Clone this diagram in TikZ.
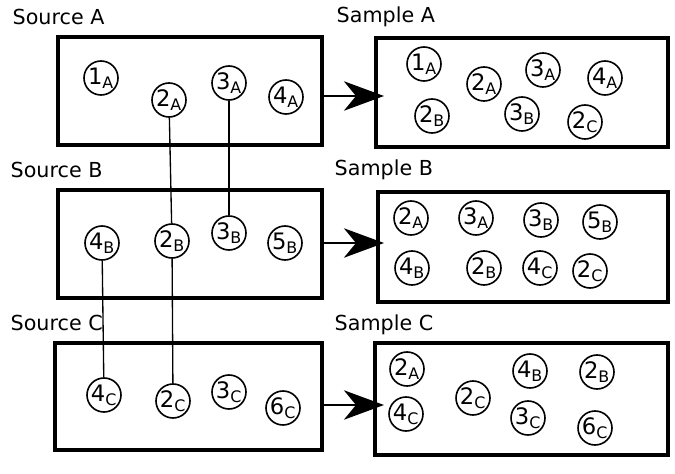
\documentclass[tikz,border=0pt]{standalone}
\usepackage{fontspec}
\setmainfont{DejaVu Sans}
\usetikzlibrary{arrows.meta}
\newcommand{\lbl}[2]{#1\textsubscript{#2}}
\begin{document}
\begin{tikzpicture}[x=0.75pt,y=-0.75pt,
  box/.style={draw,line width=3pt},
  it/.style={draw,circle,line width=1.2pt,minimum size=25.5pt,inner sep=0pt,font=\fontsize{17}{17}\selectfont},
  ttl/.style={anchor=west,font=\fontsize{15.5}{16}\selectfont},
  arr/.style={line width=2.2pt,-{Stealth[length=30pt,width=22pt,inset=9pt]}},
  lk/.style={line width=1pt}]
\useasboundingbox (0,0) rectangle (675,474);
\draw[box] (58,37) rectangle (322,145);
\draw[box] (58,190) rectangle (322,298);
\draw[box] (55,343) rectangle (322,450);
\draw[box] (376,38) rectangle (668,147);
\draw[box] (378,192) rectangle (668,302);
\draw[box] (375,343) rectangle (668,455);
\node[ttl] (tA) at (8,17) {Source A};
\node[ttl] (sA) at (332,17) {Sample A};
\node[ttl] (tB) at (6,170) {Source B};
\node[ttl] (sB) at (330,170) {Sample B};
\node[ttl] (tC) at (6,323) {Source C};
\node[ttl] (sC) at (330,325) {Sample C};
% sources
\node[it] (a1) at (101,78) {\lbl{1}{A}};
\node[it] (a2) at (169,100) {\lbl{2}{A}};
\node[it] (a3) at (229,83) {\lbl{3}{A}};
\node[it] (a4) at (286,97) {\lbl{4}{A}};
\node[it] (b4) at (102,243) {\lbl{4}{B}};
\node[it] (b2) at (172,241) {\lbl{2}{B}};
\node[it] (b3) at (229,233) {\lbl{3}{B}};
\node[it] (b5) at (285,243) {\lbl{5}{B}};
\node[it] (c4) at (104,395) {\lbl{4}{C}};
\node[it] (c2) at (173,401) {\lbl{2}{C}};
\node[it] (c3) at (229,392) {\lbl{3}{C}};
\node[it] (c6) at (283,408) {\lbl{6}{C}};
\draw[lk] (a2) -- (b2);
\draw[lk] (a3) -- (b3);
\draw[lk] (b4) -- (c4);
\draw[lk] (b2) -- (c2);
% samples
\node[it] (p1) at (424,64) {\lbl{1}{A}};
\node[it] (p2) at (484,84) {\lbl{2}{A}};
\node[it] (p3) at (543,70) {\lbl{3}{A}};
\node[it] (p4) at (605,78) {\lbl{4}{A}};
\node[it] (p5) at (432,116) {\lbl{2}{B}};
\node[it] (p6) at (522,114) {\lbl{3}{B}};
\node[it] (p7) at (585,122) {\lbl{2}{C}};
\node[it] (q1) at (411,218) {\lbl{2}{A}};
\node[it] (q2) at (476,218) {\lbl{3}{A}};
\node[it] (q3) at (541,220) {\lbl{3}{B}};
\node[it] (q4) at (600,222) {\lbl{5}{B}};
\node[it] (q5) at (412,268) {\lbl{4}{B}};
\node[it] (q6) at (484,268) {\lbl{2}{B}};
\node[it] (q7) at (540,268) {\lbl{4}{C}};
\node[it] (q8) at (590,271) {\lbl{2}{C}};
\node[it] (r1) at (407,369) {\lbl{2}{A}};
\node[it] (r2) at (473,398) {\lbl{2}{C}};
\node[it] (r3) at (530,371) {\lbl{4}{B}};
\node[it] (r4) at (597,372) {\lbl{2}{B}};
\node[it] (r5) at (406,414) {\lbl{4}{C}};
\node[it] (r6) at (528,418) {\lbl{3}{C}};
\node[it] (r7) at (595,428) {\lbl{6}{C}};
\coordinate (fa) at (322,96); \coordinate (ta) at (384,96);
\coordinate (fb) at (322,243); \coordinate (tb) at (384,243);
\coordinate (fc) at (322,405); \coordinate (tc) at (384,405);
\draw[arr] (fa) -- (ta);
\draw[arr] (fb) -- (tb);
\draw[arr] (fc) -- (tc);
\end{tikzpicture}
\end{document}
